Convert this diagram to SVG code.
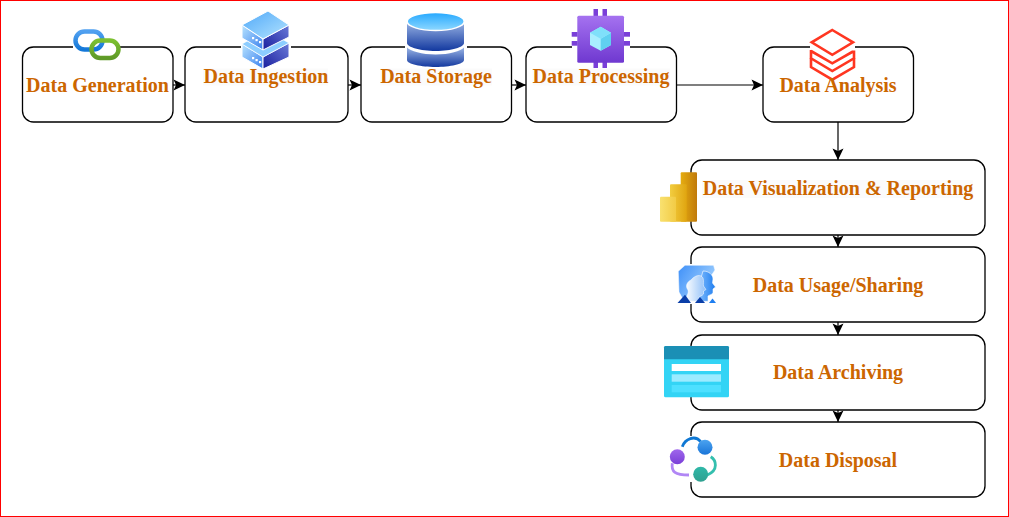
<svg xmlns="http://www.w3.org/2000/svg" width="1009" height="517" viewBox="0 0 1009 517">
<style>
.n{fill:#fff;stroke:#000;stroke-width:1.3}
.t{font-family:"Liberation Serif","Times New Roman",serif;font-weight:700;font-size:20px;fill:#cc6600;text-anchor:middle}
.c{fill:none;stroke:#000;stroke-width:1.2;marker-end:url(#a)}
.w{fill:#fff}
.l{fill:#fbfbfb}
.db{fill:none;stroke:#ff3621;stroke-width:2.6}
</style>
<defs>
<marker id="a" markerUnits="userSpaceOnUse" markerWidth="13" markerHeight="13" refX="12" refY="6.500" orient="auto"><path d="M0.500 1L12 6.500L0.500 12L3 6.500Z" fill="#000"/></marker>
<linearGradient id="lb" x1="0" y1="0" x2="0" y2="1"><stop offset="0" stop-color="#50a0f0"/><stop offset="1" stop-color="#1478d8"/></linearGradient>
<linearGradient id="lg" x1="0" y1="0" x2="0" y2="1"><stop offset="0" stop-color="#7cc030"/><stop offset="1" stop-color="#5f9a28"/></linearGradient>
<linearGradient id="s1" x1="0" y1="0" x2="1" y2="1"><stop offset="0" stop-color="#4fa8f8"/><stop offset="1" stop-color="#b4e4ff"/></linearGradient>
<linearGradient id="s2" x1="0" y1="0" x2="1" y2="1"><stop offset="0" stop-color="#b8e4ff"/><stop offset="1" stop-color="#3a80ee"/></linearGradient>
<linearGradient id="s3" x1="1" y1="0" x2="0" y2="1"><stop offset="0" stop-color="#6a7ad8"/><stop offset="1" stop-color="#1a1f9e"/></linearGradient>
<linearGradient id="d1" x1="0" y1="0" x2="0" y2="1"><stop offset="0" stop-color="#25a8ff"/><stop offset="1" stop-color="#8ed8ff"/></linearGradient>
<linearGradient id="d2" x1="0" y1="0" x2="0" y2="1"><stop offset="0" stop-color="#9ab4e4"/><stop offset="1" stop-color="#12389f"/></linearGradient>
<linearGradient id="p1" x1="0" y1="0" x2="0" y2="1"><stop offset="0" stop-color="#a572f0"/><stop offset="1" stop-color="#6f38d0"/></linearGradient>
<linearGradient id="b1" x1="0" y1="0" x2="1" y2="0"><stop offset="0" stop-color="#e6ad10"/><stop offset="1" stop-color="#c07a0c"/></linearGradient>
<linearGradient id="b2" x1="0" y1="0" x2="1" y2="0"><stop offset="0" stop-color="#f2cd40"/><stop offset="1" stop-color="#e0a510"/></linearGradient>
<linearGradient id="b3" x1="0" y1="0" x2="1" y2="0"><stop offset="0" stop-color="#f9e170"/><stop offset="1" stop-color="#f2cb45"/></linearGradient>
<linearGradient id="u1" x1="0" y1="0" x2="1" y2="0.600"><stop offset="0" stop-color="#3f90f8"/><stop offset="1" stop-color="#a6d4ff"/></linearGradient>
<linearGradient id="u2" x1="0" y1="0" x2="1" y2="0"><stop offset="0" stop-color="#ffffff"/><stop offset="1" stop-color="#8fbff8"/></linearGradient>
<linearGradient id="u3" x1="0" y1="0" x2="1" y2="0"><stop offset="0" stop-color="#8cc4ff"/><stop offset="1" stop-color="#1f7ef0"/></linearGradient>
<linearGradient id="q1" x1="0" y1="0" x2="0" y2="1"><stop offset="0" stop-color="#4ba3f0"/><stop offset="1" stop-color="#1a75d8"/></linearGradient>
<linearGradient id="q2" x1="0" y1="0" x2="0" y2="1"><stop offset="0" stop-color="#a067ec"/><stop offset="1" stop-color="#7a3fd8"/></linearGradient>
<linearGradient id="q3" x1="0" y1="0" x2="0" y2="1"><stop offset="0" stop-color="#2fb8a8"/><stop offset="1" stop-color="#30a090"/></linearGradient>
</defs>
<rect x="0.500" y="0.500" width="1008" height="516" fill="#fff" stroke="#ff0000"/>
<g id="connectors">
<path class="c" d="M173 85H185"/>
<path class="c" d="M348 85H361"/>
<path class="c" d="M511.500 85H526"/>
<path class="c" d="M676 85H763"/>
<path class="c" d="M838 122V160"/>
<path class="c" d="M838 235V247"/>
<path class="c" d="M838 322V335"/>
<path class="c" d="M838 410V422"/>
</g>
<g id="data-generation">
<rect class="n" x="22.500" y="47" width="150.500" height="75" rx="11"/>
<rect class="w" x="73" y="45" width="47" height="5"/>
<rect x="75.500" y="31.500" width="27" height="18" rx="9" fill="none" stroke="url(#lb)" stroke-width="4.500"/>
<rect x="91.500" y="40.500" width="27" height="17.500" rx="8.700" fill="none" stroke="url(#lg)" stroke-width="4.500"/>
<text class="t" x="97.500" y="92.400">Data Generation</text>
</g>
<g id="data-ingestion">
<rect class="n" x="185" y="47" width="163" height="75" rx="11"/>
<rect class="w" x="241" y="45" width="50" height="5"/>
<path d="M242 44L263 57V69L242 57Z" fill="url(#s2)" stroke="#fff"/>
<path d="M263 57L289 43V57L263 69Z" fill="url(#s3)" stroke="#fff"/>
<path d="M242 44L249 40L263 48L282 39L289 43L263 57Z" fill="#8ccdff" stroke="#fff" stroke-width="0.700"/>
<path d="M242 25L263 39V50L242 38Z" fill="url(#s2)" stroke="#fff"/>
<path d="M263 39L289 25V37L263 50Z" fill="url(#s3)" stroke="#fff"/>
<path d="M242 25L268 11L289 25L263 39Z" fill="url(#s1)" stroke="#fff"/>
<g fill="#fff"><rect x="252" y="37" width="2.200" height="2.200"/><rect x="255.500" y="39" width="2.200" height="2.200"/><rect x="259" y="41" width="2.200" height="2.200"/><rect x="252" y="57" width="2.200" height="2.200"/><rect x="255.500" y="59" width="2.200" height="2.200"/><rect x="259" y="61" width="2.200" height="2.200"/></g>
<rect class="l" x="203" y="68.500" width="125" height="17"/>
<text class="t" x="266" y="83.400">Data Ingestion</text>
</g>
<g id="data-storage">
<rect class="n" x="361" y="47" width="150.500" height="75" rx="11"/>
<rect class="w" x="405" y="45" width="62" height="5"/>
<path d="M407 21.500V43C407 47 420 51 435.700 51S464 47 464 43V21.500Z" fill="url(#d2)"/>
<path d="M407 47.500C410 51 422 54.500 435.700 54.500S461 51 464 47.500V60C464 64 450 67 435.700 67S407 64 407 60Z" fill="url(#d2)"/>
<ellipse cx="435.700" cy="21.500" rx="28.500" ry="9" fill="url(#d1)" stroke="#fff" stroke-width="1.500"/>
<rect class="l" x="380" y="68.500" width="112" height="17"/>
<text class="t" x="436" y="83.400">Data Storage</text>
</g>
<g id="data-processing">
<rect class="n" x="526" y="47" width="150.500" height="75" rx="11"/>
<rect class="w" x="572" y="45" width="58" height="5"/>
<g fill="#7a3fd8"><rect x="593.500" y="9" width="4.500" height="8"/><rect x="602.500" y="9" width="4.500" height="8"/><rect x="593.500" y="62" width="4.500" height="6"/><rect x="602.500" y="62" width="4.500" height="6"/><rect x="571.700" y="32" width="6" height="4.700"/><rect x="571.700" y="41" width="6" height="4.700"/><rect x="623.500" y="32" width="6.500" height="4.700"/><rect x="623.500" y="41" width="6.500" height="4.700"/></g>
<rect x="577.300" y="15.700" width="46.700" height="47" rx="1.500" fill="url(#p1)"/>
<path d="M600.700 26.700L611 32.700V45L600.700 50.700L590 45V32.700Z" fill="#a8eeff"/>
<path d="M600.700 38.700L611 32.700V45L600.700 50.700Z" fill="#60d0f0"/>
<path d="M600.700 26.700L611 32.700L600.700 38.700L590 32.700Z" fill="#7fe0fa"/>
<rect class="l" x="532.500" y="68.500" width="137.500" height="17"/>
<text class="t" x="601" y="83.400">Data Processing</text>
</g>
<g id="data-analysis">
<rect class="n" x="763" y="47" width="150.500" height="75" rx="11"/>
<rect class="w" x="810" y="45" width="45" height="5"/>
<path class="db" d="M832.300 30L853 42.300L832.300 54.800L811.700 42.300Z"/>
<path class="db" d="M811 50V58.300L832.300 71L854 58.300V50.500M811 51L832.300 63.300L853 51.500"/>
<path class="db" d="M811 58.300V67L832.300 79.700L854 67V58.300"/>
<text class="t" x="838" y="92.400">Data Analysis</text>
</g>
<g id="data-visualization">
<rect class="n" x="691" y="160" width="294" height="75" rx="11"/>
<rect x="680.700" y="172.300" width="16.300" height="49.400" rx="1" fill="url(#b1)"/>
<rect x="670" y="184.300" width="16.700" height="37.400" rx="1" fill="url(#b2)"/>
<rect x="660" y="196.700" width="16" height="25" rx="1" fill="url(#b3)"/>
<rect class="l" x="702" y="180" width="271" height="18"/>
<text class="t" x="838" y="195.400">Data Visualization &amp; Reporting</text>
</g>
<g id="data-usage">
<rect class="n" x="691" y="247" width="294" height="75" rx="11"/>
<rect class="w" x="688" y="264" width="6" height="40"/>
<path d="M678.300 271.300L685 265.300H713.500L715 270L711 276L700 295L684 301.300L679 292Z" fill="url(#u1)" stroke="#fff" stroke-width="0.500"/>
<path d="M703 271C709 271 713 275 713 279L712.500 283L715.500 287L713 289L713 293C711 295 709 295 708 296L708 301.300H696L698 288Z" fill="url(#u3)" stroke="#fff" stroke-width="0.600"/>
<path d="M685 301.300C686 296 689 294 688 290C685 286 687 282 691 280C695 275 701 274 703 278C704 281 703 284 703.500 286L706 289.500L703.500 291L703.500 294C702 296 700 296 699 297L699 301.300Z" fill="url(#u2)" stroke="#fff" stroke-width="0.500"/>
<path d="M677.500 303L685 294.700L691 303Z" fill="#0a3ea8"/>
<path d="M695 303L700 297L705 303Z" fill="#0a3ea8"/>
<path d="M709 303L712.500 298.500L716 303Z" fill="#1f7ef0"/>
<text class="t" x="838" y="292.400">Data Usage/Sharing</text>
</g>
<g id="data-archiving">
<rect class="n" x="691" y="335" width="294" height="75" rx="11"/>
<rect x="664" y="346" width="65" height="51.300" rx="1.500" fill="#33d4f5"/>
<path d="M665.500 346H727.500A1.500 1.500 0 0 1 729 347.500V359.300H664V347.500A1.500 1.500 0 0 1 665.500 346Z" fill="#1b8fb5"/>
<rect x="671.700" y="364" width="49.300" height="7" fill="#fff"/>
<rect x="671.700" y="374.300" width="49.300" height="7.400" fill="#9bebff"/>
<rect x="671.700" y="385" width="49.300" height="7.300" fill="#4de0ff"/>
<text class="t" x="838" y="379.400">Data Archiving</text>
</g>
<g id="data-disposal">
<rect class="n" x="691" y="422" width="294" height="75" rx="11"/>
<rect class="w" x="688" y="436" width="6" height="46"/>
<path d="M682.300 446.700C685 439 695 434.500 700.700 441.700" fill="none" stroke="#0f78d4" stroke-width="2.800"/>
<path d="M710.700 456.700C716 460 719 470 707.300 475" fill="none" stroke="#34bfae" stroke-width="2.800"/>
<path d="M672.300 463.300C671 472 675 475 689 475" fill="none" stroke="#b186f5" stroke-width="2.800"/>
<circle cx="705" cy="447.300" r="7.500" fill="url(#q1)"/>
<circle cx="677.300" cy="456.700" r="7.500" fill="url(#q2)"/>
<circle cx="700.700" cy="474.300" r="7.500" fill="url(#q3)"/>
<text class="t" x="838" y="467.400">Data Disposal</text>
</g>
</svg>
